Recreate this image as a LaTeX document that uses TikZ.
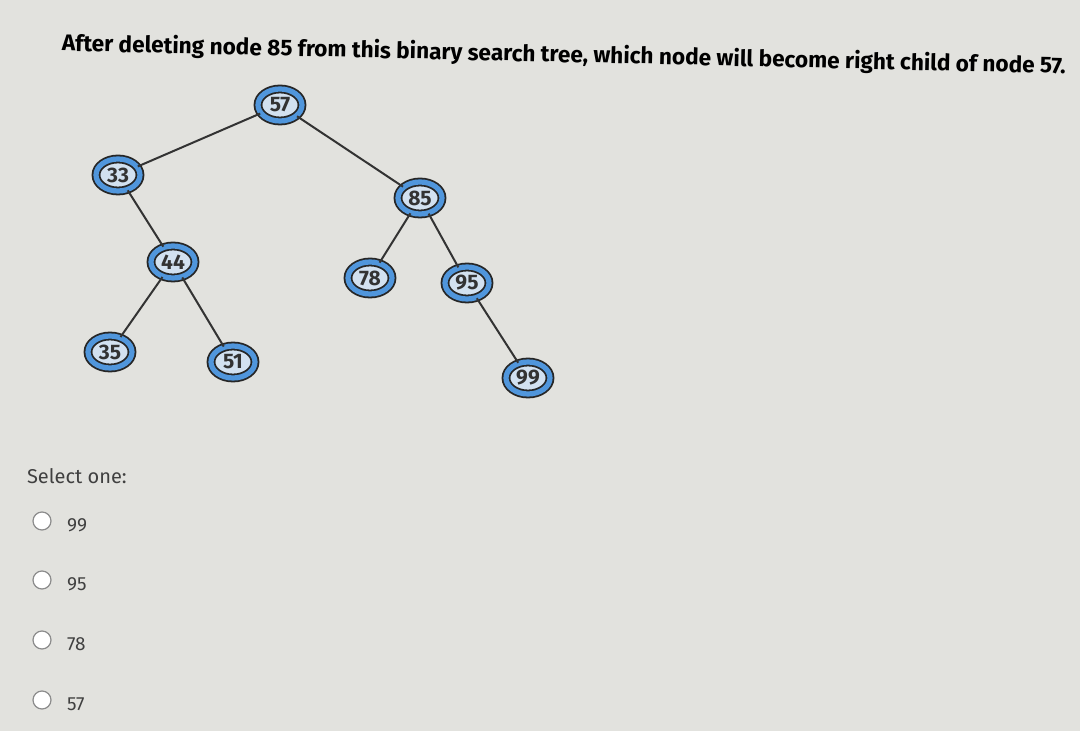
\documentclass[tikz,border=0pt]{standalone}
\usepackage{fontspec}
\setmainfont{Fira Sans}
\usetikzlibrary{shapes.geometric}
\definecolor{bg}{RGB}{226,226,222}
\definecolor{ring}{RGB}{80,150,220}
\definecolor{inner}{RGB}{210,225,240}
\tikzset{
  bst/.style={ellipse, draw=black!85, line width=0.9pt, fill=inner, inner sep=0pt,
    minimum width=22pt, minimum height=16pt, font=\bfseries\fontsize{10.5}{10}\selectfont, text=black!80,
    double=ring, double distance=2.6pt},
  edge/.style={draw=black!80, line width=1pt},
  radio/.style={circle, draw=black!45, line width=0.6pt, fill=white, minimum size=9pt, inner sep=0pt},
  opt/.style={anchor=west, font=\fontsize{9.5}{10}\selectfont, text=black!75}
}
\begin{document}
\begin{tikzpicture}[x=0.5pt,y=-0.5pt]
\useasboundingbox (0,0) rectangle (1080,731);
\fill[bg] (0,0) rectangle (1080,731);
\node[anchor=west, font=\bfseries\fontsize{11.3}{12}\selectfont, rotate=-1.3] (title) at (55,44) {After deleting node 85 from this binary search tree, which node will become right child of node 57.};
\node[bst] (n57) at (280,105) {57};
\node[bst] (n33) at (118,175) {33};
\node[bst] (n85) at (420,198) {85};
\node[bst] (n44) at (173,262) {44};
\node[bst] (n78) at (370,278) {78};
\node[bst] (n95) at (467,283) {95};
\node[bst] (n35) at (110,352) {35};
\node[bst] (n51) at (233,362) {51};
\node[bst] (n99) at (528,378) {99};
\path[edge] (n57) -- (n33);
\path[edge] (n57) -- (n85);
\path[edge] (n33) -- (n44);
\path[edge] (n44) -- (n35);
\path[edge] (n44) -- (n51);
\path[edge] (n85) -- (n78);
\path[edge] (n85) -- (n95);
\path[edge] (n95) -- (n99);
\node[anchor=west, font=\fontsize{10}{12}\selectfont, text=black!75] (sel) at (20,476) {Select one:};
\foreach \y/\v [count=\i] in {521/99,580/95,640/78,700/57}{
  \node[radio] (r\i) at (42,\y) {};
  \node[opt] (o\i) at (60,\y+4) {\v};
}
\end{tikzpicture}
\end{document}
